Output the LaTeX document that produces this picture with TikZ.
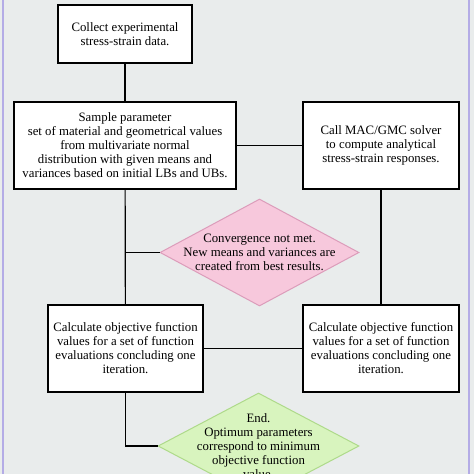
\documentclass[tikz,border=0pt]{standalone}
\usepackage{fontspec}
\setmainfont{Liberation Serif}
\usetikzlibrary{shapes.geometric}
\definecolor{bggray}{HTML}{E9ECEC}
\definecolor{lavender}{HTML}{B4ACE6}
\definecolor{pinkfill}{HTML}{F7C8DC}
\definecolor{pinkline}{HTML}{DC9CBA}
\definecolor{greenfill}{HTML}{D8F4BE}
\definecolor{greenline}{HTML}{AEDA8A}
\begin{document}
\begin{tikzpicture}[x=1pt,y=-1pt,
    stepbox/.style={draw,fill=white,line width=1.2,align=center,inner sep=0,
        font=\fontsize{12.8}{14}\selectfont},
    decide/.style={diamond,draw,line width=1,inner sep=0},
    words/.style={align=center,font=\fontsize{12.8}{14}\selectfont},
    link/.style={line width=1.2}]
        \clip (0,0) rectangle (474,474);
        \fill[bggray] (0,0) rectangle (474,474);
        \draw[lavender,line width=1.5] (3,0) -- (3,474);
        \draw[lavender,line width=1.5] (469,0) -- (469,474);
        \node[stepbox,minimum width=134,minimum height=58] (collect) at (125,34) {Collect experimental\\stress-strain data.};
        \node[stepbox,minimum width=222,minimum height=87] (sample) at (125,145.5) {Sample parameter\\set of material and geometrical values\\from multivariate normal\\distribution with given means and\\variances based on initial LBs and UBs.};
        \node[stepbox,minimum width=156,minimum height=87] (solver) at (381,145.5) {Call MAC/GMC solver\\to compute analytical\\stress-strain responses.};
        \node[decide,fill=pinkfill,draw=pinkline,minimum width=199,minimum height=107] (conv) at (259.5,252.5) {};
        \node[words] at (conv) {Convergence not met.\\New means and variances are\\created from best results.};
        \node[stepbox,minimum width=155,minimum height=87] (objleft) at (125.5,348.5) {Calculate objective function\\values for a set of function\\evaluations concluding one\\iteration.};
        \node[stepbox,minimum width=156,minimum height=87] (objright) at (381,348.5) {Calculate objective function\\values for a set of function\\evaluations concluding one\\iteration.};
        \node[decide,fill=greenfill,draw=greenline,minimum width=201,minimum height=106] (finish) at (258.5,446) {};
        \node[words] at (finish) {End.\\Optimum parameters\\correspond to minimum\\objective function\\value.};
        \draw[link] (collect) -- (sample);
        \draw[link] (sample) -- (solver);
        \draw[link] (sample) -- (objleft);
        \draw[link] (conv.west) -- (conv.west -| sample.south);
        \draw[link] (solver) -- (objright);
        \draw[link] (objleft) -- (objright);
        \draw[link] (objleft.south) |- (finish.west);
    \end{tikzpicture}
\end{document}
